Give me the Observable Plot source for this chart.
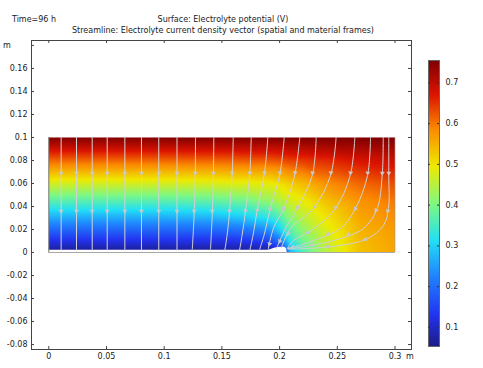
<!DOCTYPE html>
<html><head><meta charset="utf-8">
<script src="https://cdn.jsdelivr.net/npm/d3@7"></script>
<script src="https://cdn.jsdelivr.net/npm/@observablehq/plot@0.6"></script>
<style>
html,body{margin:0;padding:0;background:#fff;}
#wrap{position:relative;width:483px;height:368px;overflow:hidden;font-family:"DejaVu Sans",sans-serif;}
.t{position:absolute;font-size:8px;line-height:10px;color:#222;white-space:nowrap;}
#main,#bar{position:absolute;top:0;}
#main{left:0;} #bar{left:420px;}
</style></head><body>
<div id="wrap">
<div id="main"></div><div id="bar"></div>
<div class="t" style="left:12px;top:15px;">Time=96 h</div>
<div class="t" style="left:223px;top:15px;transform:translateX(-50%);">Surface: Electrolyte potential (V)</div>
<div class="t" style="left:223px;top:26px;transform:translateX(-50%);">Streamline: Electrolyte current density vector (spatial and material frames)</div>
<div class="t" style="left:3px;top:41px;">m</div>
<div class="t" style="left:406px;top:352px;">m</div>
</div>
<script>
// ---- data ----
const gridX = [0, 0.1, 0.14, 0.17, 0.19, 0.2, 0.205, 0.21, 0.22, 0.24, 0.27, 0.3];
const gridY = [0, 0.005, 0.01, 0.02, 0.03, 0.045, 0.06, 0.08, 0.1];
// electrolyte potential (V), one row per gridY value, columns per gridX
const potential = [
  [0.053,0.053,0.054,0.056,0.060,0.070,0.150,0.280,0.360,0.450,0.535,0.560],
  [0.088,0.088,0.089,0.092,0.100,0.140,0.220,0.300,0.370,0.455,0.537,0.561],
  [0.123,0.123,0.125,0.130,0.150,0.205,0.270,0.330,0.390,0.465,0.540,0.563],
  [0.193,0.193,0.197,0.210,0.240,0.300,0.340,0.375,0.420,0.480,0.548,0.570],
  [0.263,0.263,0.270,0.290,0.320,0.355,0.390,0.415,0.450,0.500,0.558,0.580],
  [0.368,0.368,0.375,0.390,0.420,0.445,0.460,0.475,0.490,0.535,0.578,0.600],
  [0.473,0.473,0.478,0.485,0.490,0.505,0.515,0.525,0.540,0.580,0.612,0.630],
  [0.613,0.613,0.615,0.620,0.622,0.628,0.634,0.640,0.645,0.655,0.675,0.685],
  [0.753,0.753,0.754,0.755,0.755,0.755,0.755,0.755,0.755,0.755,0.755,0.755]
];
const colorDomain = [0.053, 0.755];
const xTicks = [0, 0.05, 0.1, 0.15, 0.2, 0.25, 0.3];
const yTicks = [-0.08,-0.06,-0.04,-0.02,0,0.02,0.04,0.06,0.08,0.1,0.12,0.14,0.16,0.18];
const yLabels = [-0.08,-0.06,-0.04,-0.02,0,0.02,0.04,0.06,0.08,0.1,0.12,0.14,0.16];
const barTicks = [0.1,0.2,0.3,0.4,0.5,0.6,0.7];
// deposit (white) layer on the electrode: x and thickness
const depositX = [0, 0.19, 0.195, 0.2, 0.204, 0.206, 0.2065];
const depositTop = [0.002, 0.002, 0.0035, 0.0046, 0.0045, 0.003, 0.0005];
// vertical streamlines (x positions)
const straightLineX = [0.0107, 0.0240, 0.0376, 0.0506, 0.0659, 0.0803, 0.0953, 0.1111];
// bent streamlines, from the top boundary down to the electrode
const curvedLines = [
  [[0.1271,0.1],[0.1268,0.06],[0.1258,0.03],[0.1243,0.002]],
  [[0.1430,0.1],[0.1425,0.06],[0.1415,0.03],[0.1401,0.002]],
  [[0.1598,0.1],[0.1590,0.07],[0.1570,0.04],[0.1545,0.015],[0.1525,0.002]],
  [[0.1754,0.1],[0.1742,0.069],[0.1705,0.0365],[0.1675,0.015],[0.1653,0.002]],
  [[0.1898,0.1],[0.1869,0.069],[0.1806,0.0365],[0.1770,0.015],[0.1742,0.002]],
  [[0.2040,0.1],[0.2002,0.068],[0.1921,0.039],[0.1865,0.015],[0.1828,0.003]],
  [[0.2175,0.1],[0.2132,0.068],[0.2040,0.039],[0.1950,0.022],[0.1901,0.003]],
  [[0.2317,0.1],[0.2283,0.067],[0.2153,0.0383],[0.2051,0.0209],[0.1973,0.0035]],
  [[0.2490,0.1],[0.2441,0.067],[0.2294,0.0383],[0.2094,0.0209],[0.2016,0.0043]],
  [[0.2652,0.1],[0.2612,0.067],[0.2484,0.0383],[0.2296,0.0206],[0.2121,0.0104],[0.2068,0.0038]],
  [[0.2788,0.1],[0.2762,0.067],[0.2658,0.0383],[0.2528,0.0209],[0.2294,0.0104],[0.2138,0.0052],[0.2070,0.0038]],
  [[0.2898,0.1],[0.2889,0.067],[0.2846,0.0383],[0.2727,0.0209],[0.2467,0.0104],[0.2181,0.0046],[0.2072,0.0035]],
  [[0.2946,0.1],[0.2946,0.067],[0.2944,0.0383],[0.2900,0.0235],[0.2759,0.0119],[0.2499,0.0058],[0.2181,0.0032],[0.2075,0.003]]
];

// ---- build tables ----
const samples = [];
gridY.forEach((y, i) => gridX.forEach((x, j) => samples.push({x, y, v: potential[i][j]})));
const deposit = depositX.map((x, i) => ({x, t: depositTop[i]}));
const lines = [
  ...straightLineX.map(x => [[x, 0.1], [x, 0.002]]),
  ...curvedLines
];
const linePts = [];
lines.forEach((pts, id) => pts.forEach(([x, y]) => linePts.push({id, x, y})));
// arrowheads at regular arc length along each streamline
const arrows = [];
lines.forEach(pts => {
  const seg = [];
  let total = 0;
  for (let i = 1; i < pts.length; i++) {
    const dx = pts[i][0] - pts[i-1][0], dy = pts[i][1] - pts[i-1][1];
    const L = Math.hypot(dx, dy);
    seg.push({a: pts[i-1], dx, dy, L, s0: total});
    total += L;
  }
  for (let s = 0.031; s < total - 0.003; s += 0.033) {
    const g = seg.find(g => s >= g.s0 && s <= g.s0 + g.L) || seg[seg.length-1];
    const f = (s - g.s0) / g.L;
    arrows.push({x: g.a[0] + f*g.dx, y: g.a[1] + f*g.dy, r: Math.atan2(g.dx, g.dy) * 180 / Math.PI});
  }
});

const rainbow = d3.scaleLinear()
  .domain([0, 0.11, 0.25, 0.37, 0.5, 0.63, 0.76, 0.88, 1])
  .range(["#1c1c88","#2233f0","#1f86ff","#22e0f5","#80f880","#eeea00","#fb8a00","#dc1400","#800000"])
  .interpolate(d3.interpolateRgb);

const fw = 380, fh = 309;
const main = Plot.plot({
  width: 420, height: 368,
  marginLeft: 31, marginRight: 9, marginTop: 40, marginBottom: 19,
  style: {fontSize: "8px", fontFamily: "DejaVu Sans, sans-serif", color: "#222", background: "white"},
  x: {domain: [-0.01499, 0.3143]},
  y: {domain: [-0.0843, 0.1843]},
  color: {type: "linear", domain: colorDomain, interpolate: t => rainbow(t)},
  marks: [
    Plot.raster(samples, {x: "x", y: "y", fill: "v", interpolate: "barycentric", x1: 0, x2: 0.3, y1: 0, y2: 0.1}),
    Plot.areaY(deposit, {x: "x", y1: 0, y2: "t", fill: "white", curve: "monotone-x"}),
    Plot.ruleY([0], {x1: 0, x2: 0.3, stroke: "#a8a8a8", strokeWidth: 1.2}),
    Plot.ruleX([0], {y1: 0, y2: 0.1, stroke: "#777"}),
    Plot.ruleX([0.3], {y1: 0, y2: 0.1, stroke: "#999", strokeOpacity: 0.6}),
    Plot.line(linePts, {x: "x", y: "y", z: "id", stroke: "#d2d2d2", strokeWidth: 1, curve: "catmull-rom"}),
    Plot.dot(arrows, {x: "x", y: "y", rotate: "r", symbol: "triangle", r: 1.8, fill: "#c8c8c8"}),
    Plot.frame({stroke: "#444"}),
    Plot.tickX(xTicks, {x: d => d, insetTop: fh - 3, stroke: "#444"}),
    Plot.tickX(xTicks, {x: d => d, insetBottom: fh - 3, stroke: "#444"}),
    Plot.tickY(yTicks, {y: d => d, insetRight: fw - 3, stroke: "#444"}),
    Plot.tickY(yTicks, {y: d => d, insetLeft: fw - 3, stroke: "#444"}),
    Plot.axisX(xTicks, {anchor: "bottom", tickSize: 0, tickPadding: 4, label: null, tickFormat: d => String(+d.toFixed(2))}),
    Plot.axisY(yLabels, {anchor: "left", tickSize: 0, tickPadding: 4, label: null, tickFormat: d => String(+d.toFixed(2))})
  ]
});
document.getElementById("main").appendChild(main);

const bar = Plot.plot({
  width: 63, height: 368,
  marginLeft: 8, marginRight: 44, marginTop: 60, marginBottom: 22,
  style: {fontSize: "8px", fontFamily: "DejaVu Sans, sans-serif", color: "#222", background: "white"},
  x: {domain: [0, 1], axis: null},
  y: {domain: colorDomain},
  color: {type: "linear", domain: colorDomain, interpolate: t => rainbow(t)},
  marks: [
    Plot.raster({x1: 0, x2: 1, y1: colorDomain[0], y2: colorDomain[1], fill: (x, y) => y, width: 1, height: 300}),
    Plot.frame({stroke: "#666"}),
    Plot.tickY(barTicks, {y: d => d, insetRight: 9, stroke: "#333"}),
    Plot.tickY(barTicks, {y: d => d, insetLeft: 9, stroke: "#333"}),
    Plot.axisY(barTicks, {anchor: "right", tickSize: 0, tickPadding: 6, label: null, tickFormat: d => String(+d.toFixed(1))})
  ]
});
document.getElementById("bar").appendChild(bar);
</script>
</body></html>
